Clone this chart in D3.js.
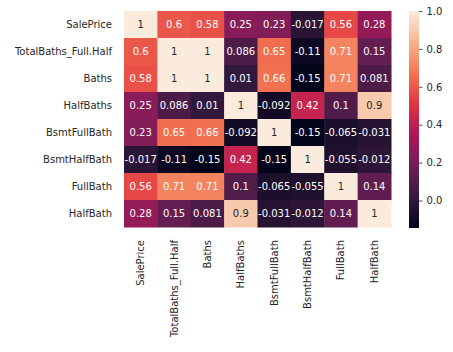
<!DOCTYPE html>
<html><head><meta charset="utf-8">
<script src="https://cdn.jsdelivr.net/npm/d3@7"></script>
<style>html,body{margin:0;padding:0;background:#fff;}</style>
</head><body><svg id="c" width="453" height="352"></svg>
<script>
const categories = ["SalePrice","TotalBaths_Full.Half","Baths","HalfBaths","BsmtFullBath","BsmtHalfBath","FullBath","HalfBath"];
const salePrice    = [1, 0.6, 0.58, 0.25, 0.23, -0.017, 0.56, 0.28];
const totalBaths   = [0.6, 1, 1, 0.086, 0.65, -0.11, 0.71, 0.15];
const baths        = [0.58, 1, 1, 0.01, 0.66, -0.15, 0.71, 0.081];
const halfBaths    = [0.25, 0.086, 0.01, 1, -0.092, 0.42, 0.1, 0.9];
const bsmtFullBath = [0.23, 0.65, 0.66, -0.092, 1, -0.15, -0.065, -0.031];
const bsmtHalfBath = [-0.017, -0.11, -0.15, 0.42, -0.15, 1, -0.055, -0.012];
const fullBath     = [0.56, 0.71, 0.71, 0.1, -0.065, -0.055, 1, 0.14];
const halfBath     = [0.28, 0.15, 0.081, 0.9, -0.031, -0.012, 0.14, 1];
const cbarTicks = [0.0, 0.2, 0.4, 0.6, 0.8, 1.0];
const vmin = -0.145, vmax = 1.0;

const matrix = [salePrice, totalBaths, baths, halfBaths, bsmtFullBath, bsmtHalfBath, fullBath, halfBath];

// rocket colormap approximation
const rocketStops = ["#03051a","#35193e","#701f57","#ad1759","#e13342","#f37651","#f6b48f","#faebdd"];
const rocketPos = [0,1/7,2/7,3/7,4/7,5/7,6/7,1];
const rocket = d3.scaleLinear().domain(rocketPos).range(rocketStops).interpolate(d3.interpolateRgb).clamp(true);
const norm = d3.scaleLinear().domain([vmin, vmax]).range([0,1]).clamp(true);
const color = v => rocket(norm(v));

function lum(c){
  const rgb = d3.rgb(c);
  const f = x => { x/=255; return x<=0.03928 ? x/12.92 : Math.pow((x+0.055)/1.055,2.4); };
  return 0.2126*f(rgb.r)+0.7152*f(rgb.g)+0.0722*f(rgb.b);
}

const svg = d3.select("#c");
const font = "DejaVu Sans, sans-serif";
const txt = "#262626";
const L = 124, R = 391, T = 11, B = 227;

const x = d3.scaleBand().domain(categories).range([L, R]);
const y = d3.scaleBand().domain(categories).range([T, B]);

const cells = [];
matrix.forEach((row,i)=>row.forEach((v,j)=>cells.push({r:categories[i], c:categories[j], v})));

svg.append("g").selectAll("rect").data(cells).join("rect")
  .attr("x", d=>x(d.c)).attr("y", d=>y(d.r))
  .attr("width", x.bandwidth()+0.5).attr("height", y.bandwidth()+0.5)
  .attr("fill", d=>color(d.v));

const fmt = v => { let s = d3.format(".2")(v); s = s.replace("−","-"); return s; };
svg.append("g").selectAll("text").data(cells).join("text")
  .attr("x", d=>x(d.c)+x.bandwidth()/2).attr("y", d=>y(d.r)+y.bandwidth()/2)
  .attr("text-anchor","middle").attr("dominant-baseline","central")
  .attr("font-family", font).attr("font-size", 10)
  .attr("fill", d=> lum(color(d.v))>0.408 ? txt : "#ffffff")
  .text(d=>{ const a=Math.abs(d.v); if (a===1) return "1"; let s = d3.format(".2g")(d.v).replace("−","-"); s = s.replace(/^(-?)0\.(\d*?)0+$/,"$10.$2"); return s; });

// y axis labels
svg.append("g").selectAll("text").data(categories).join("text")
  .attr("x", 112).attr("y", d=>y(d)+y.bandwidth()/2)
  .attr("text-anchor","end").attr("dominant-baseline","central")
  .attr("font-family", font).attr("font-size", 10).attr("fill", txt)
  .text(d=>d);

// x axis labels rotated
svg.append("g").selectAll("text").data(categories).join("text")
  .attr("transform", d=>`translate(${x(d)+x.bandwidth()/2},240) rotate(-90)`)
  .attr("text-anchor","end").attr("dominant-baseline","central")
  .attr("font-family", font).attr("font-size", 10).attr("fill", txt)
  .text(d=>d);

// colorbar
const cbX = 409, cbW = 10;
const cy = d3.scaleLinear().domain([vmin, vmax]).range([228, 11]);
const defs = svg.append("defs");
const grad = defs.append("linearGradient").attr("id","g").attr("x1",0).attr("y1",1).attr("x2",0).attr("y2",0);
d3.range(0,1.0001,0.02).forEach(t=>grad.append("stop").attr("offset",t).attr("stop-color",rocket(t)));
svg.append("rect").attr("x",cbX).attr("y",cy(vmax)).attr("width",cbW).attr("height",cy(vmin)-cy(vmax)).attr("fill","url(#g)");

const ax = d3.axisRight(cy).tickValues(cbarTicks).tickFormat(d3.format(".1f")).tickSize(3.5).tickPadding(4);
const g = svg.append("g").attr("transform",`translate(${cbX+cbW},0)`).call(ax);
g.select(".domain").remove();
g.selectAll("line").attr("stroke", txt).attr("stroke-width",0.8);
g.selectAll("text").attr("font-family", font).attr("font-size", 10).attr("fill", txt);
</script></body></html>
